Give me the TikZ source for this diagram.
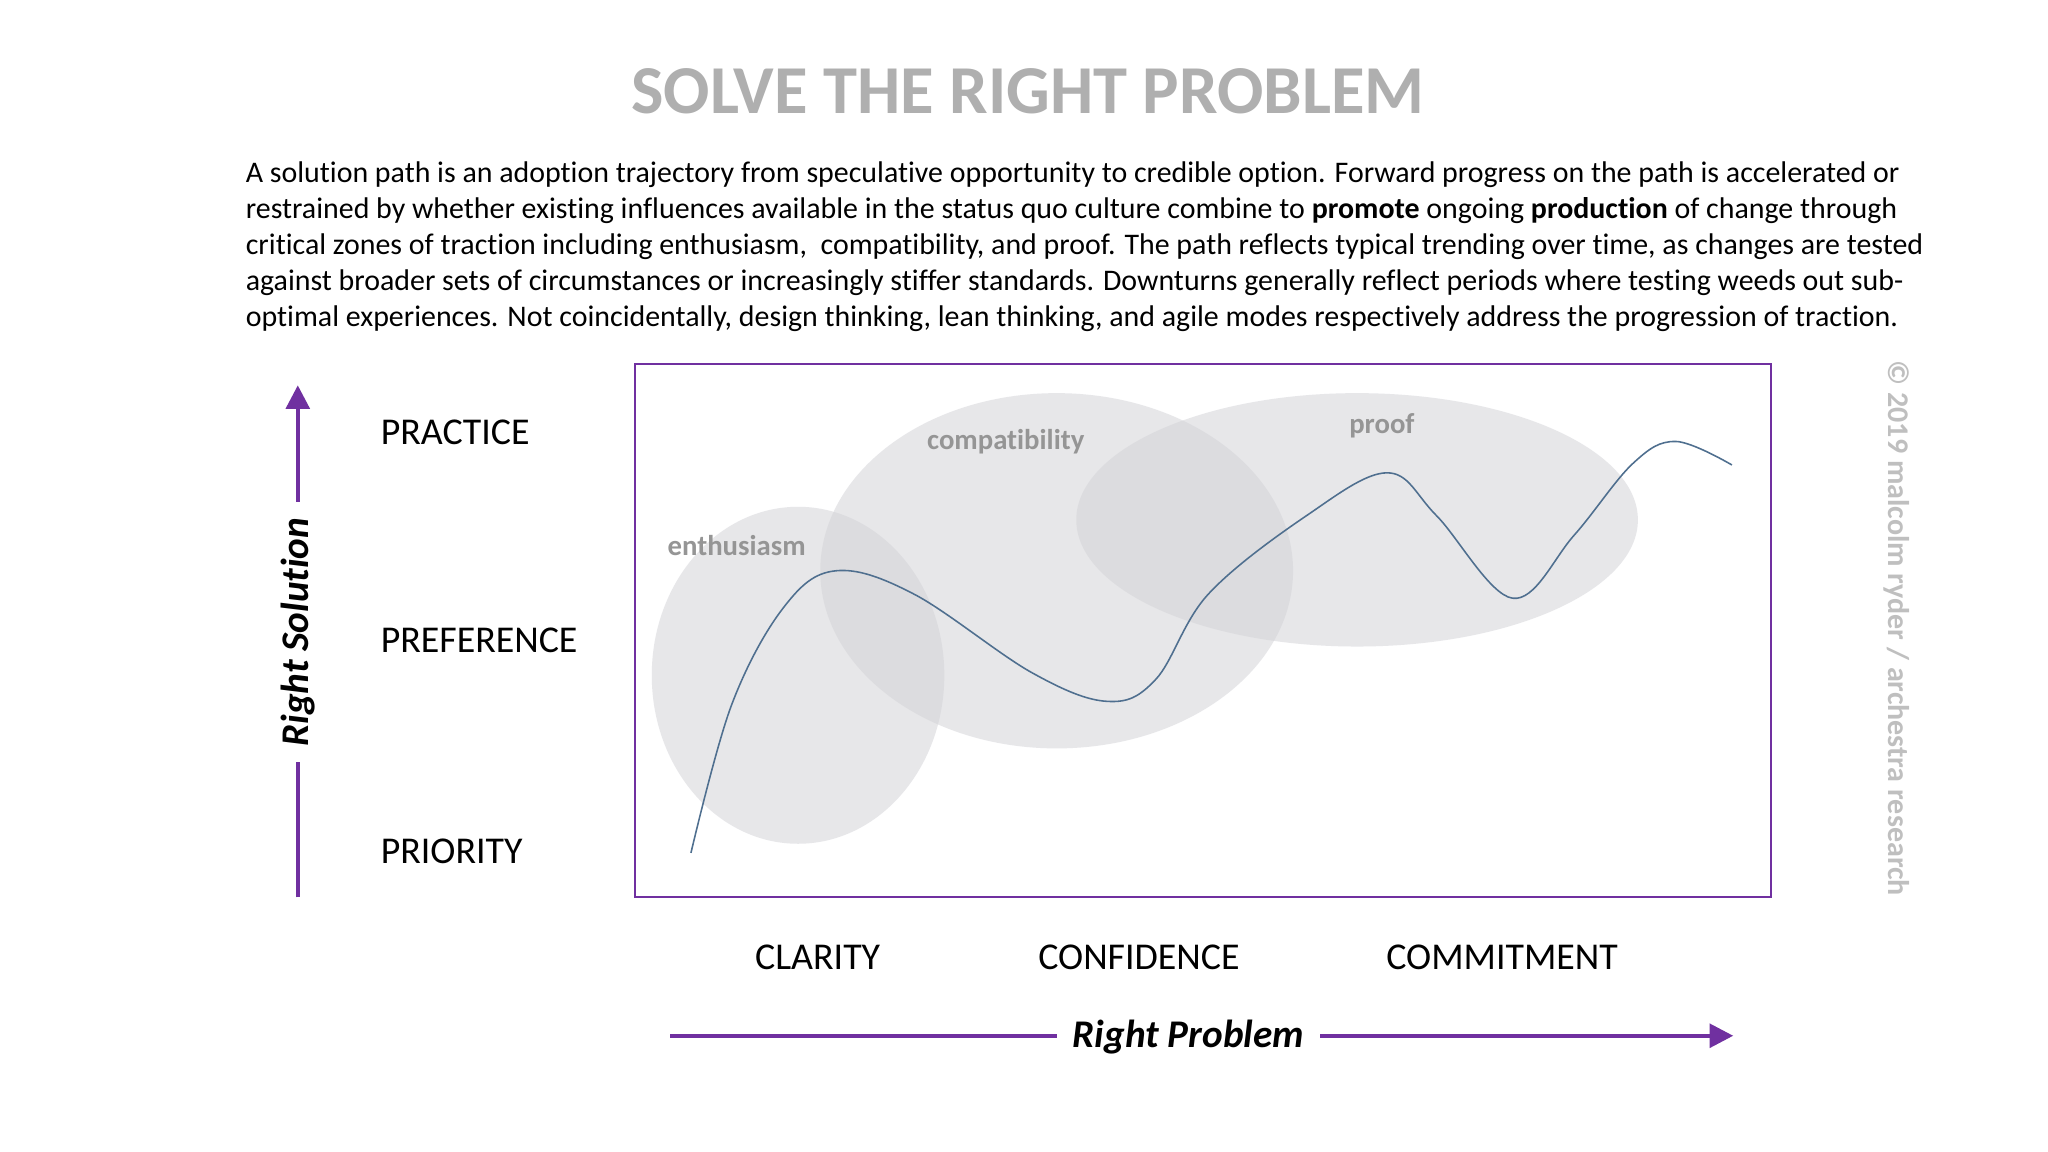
\documentclass[tikz,border=0pt]{standalone}
\usepackage{fontspec}
\setmainfont[Ligatures=NoCommon]{Carlito}
\usetikzlibrary{arrows.meta}
\definecolor{vio}{HTML}{7030A0}
\definecolor{blob}{HTML}{D4D4D8}
\definecolor{curve}{HTML}{4F6F8F}
\definecolor{ttl}{HTML}{AFAFAF}
\tikzset{
  blobstyle/.style={fill=blob,opacity=0.55},
  bloblabel/.style={text=ttl!85!black,font=\bfseries\fontsize{22}{26}\selectfont},
  lvl/.style={font=\fontsize{29}{33}\selectfont,anchor=west},
  stage/.style={font=\fontsize{29}{33}\selectfont},
  axislabel/.style={font=\bfseries\itshape\fontsize{30}{34}\selectfont,fill=white,inner xsep=12pt},
  axisline/.style={vio,line width=3pt},
}
\begin{document}
\begin{tikzpicture}[x=1pt,y=-1pt]
\useasboundingbox[fill=white] (0,0) rectangle (1568,882);
\node[text=ttl,font=\bfseries\fontsize{52.5}{56}\selectfont] (title) at (787,70) {SOLVE THE RIGHT PROBLEM};
\node[anchor=north west,inner sep=0,align=left,font=\fontsize{22.9}{27.5}\selectfont] (body) at (188,124) {A solution path is an adoption trajectory from speculative opportunity to credible option. Forward progress on the path is accelerated or\\
restrained by whether existing influences available in the status quo culture combine to \textbf{promote} ongoing \textbf{production} of change through\\
critical zones of traction including enthusiasm,\ \ compatibility, and proof. The path reflects typical trending over time, as changes are tested\\
against broader sets of circumstances or increasingly stiffer standards. Downturns generally reflect periods where testing weeds out sub-\\
optimal experiences. Not coincidentally, design thinking, lean thinking, and agile modes respectively address the progression of traction.};
% ellipses
\fill[blobstyle] (611,517) ellipse [x radius=112,y radius=129];
\fill[blobstyle] (809,437) ellipse [x radius=181,y radius=136];
\fill[blobstyle] (1039,398) ellipse [x radius=215,y radius=97];
\node[bloblabel] (e) at (564,418) {enthusiasm};
\node[bloblabel] (c) at (770,338) {compatibility};
\node[bloblabel] (p) at (1058,326) {proof};
\draw[curve,line width=1.2pt] plot[smooth,tension=0.6] coordinates {(529,653) (560,540) (600,465) (640,437) (700,455) (790,515) (848,537) (885,520) (925,455) (1000,395) (1062,362) (1100,395) (1158,458) (1205,410) (1250,355) (1283,338) (1326,356)};
\draw[vio,line width=1.5pt] (486,279) rectangle (1356,687);
% left axis
\coordinate (lbot) at (228,687);
\coordinate (ltop) at (228,295);
\draw[axisline,-{Triangle[length=18pt,width=18pt]}] (lbot) -- (ltop);
\node[axislabel,rotate=90] (rs) at (228,484) {Right Solution};
\node[lvl] (l1) at (288,331) {PRACTICE};
\node[lvl] (l2) at (288,490) {PREFERENCE};
\node[lvl] (l3) at (288,652) {PRIORITY};
% bottom axis
\node[stage] (s1) at (626,733) {CLARITY};
\node[stage] (s2) at (872,733) {CONFIDENCE};
\node[stage] (s3) at (1150,733) {COMMITMENT};
\coordinate (bl) at (513,793);
\coordinate (br) at (1327,793);
\draw[axisline,-{Triangle[length=18pt,width=18pt]}] (bl) -- (br);
\node[axislabel] (rp) at (910,794) {Right Problem};
\node[rotate=-90,text=ttl!80,font=\bfseries\fontsize{23}{26}\selectfont] (copy) at (1452,481) {© 2019 malcolm ryder / archestra research};
\end{tikzpicture}
\end{document}
